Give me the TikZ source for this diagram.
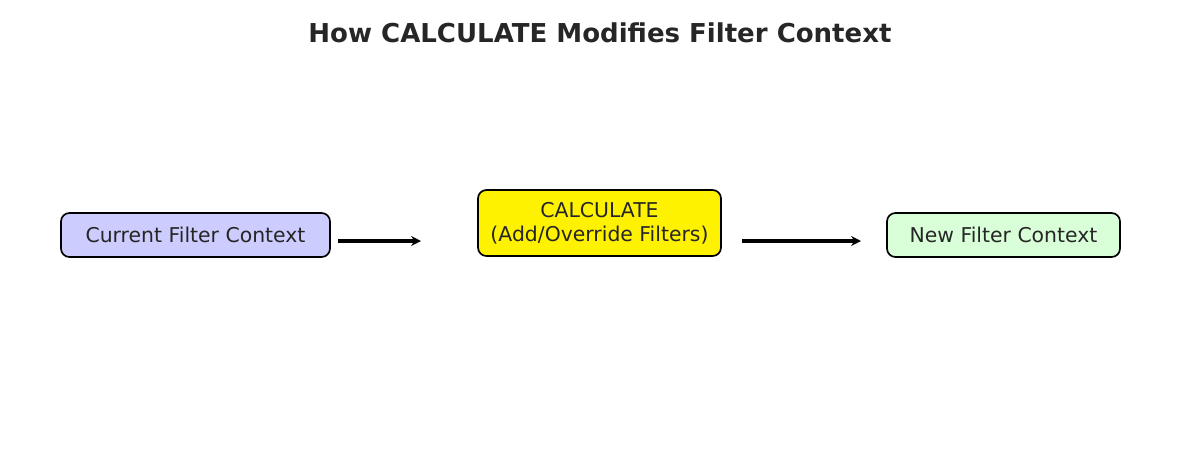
\documentclass[tikz,border=0pt]{standalone}
\usepackage{fontspec}
\setmainfont{DejaVu Sans}
\usetikzlibrary{arrows.meta}
\begin{document}
\begin{tikzpicture}[x=0.025cm,y=-0.025cm,
  box/.style={draw=black,line width=1.2pt,rounded corners=6pt,inner sep=0pt,font=\fontsize{14.5}{17}\selectfont,text=black!85,align=center},
  arr/.style={-{Stealth[length=7pt,width=7pt]},line width=2.2pt}]
\useasboundingbox (0,0) rectangle (1200,450);
\node[font=\bfseries\fontsize{18.5}{22}\selectfont,text=black!85] (t) at (600,33) {How CALCULATE Modifies Filter Context};
\node[box,fill=blue!20,minimum width=269*0.025cm,minimum height=44*0.025cm] (a) at (195.5,235) {Current Filter Context};
\node[box,fill=yellow,minimum width=243*0.025cm,minimum height=66*0.025cm] (b) at (599.5,223) {CALCULATE\\(Add/Override Filters)};
\node[box,fill=green!15,minimum width=233*0.025cm,minimum height=44*0.025cm] (c) at (1003.5,235) {New Filter Context};
\coordinate (a1) at (338,241); \coordinate (a2) at (421,241);
\coordinate (b1) at (742,241); \coordinate (b2) at (861,241);
\draw[arr] (a1) -- (a2);
\draw[arr] (b1) -- (b2);
\end{tikzpicture}
\end{document}
